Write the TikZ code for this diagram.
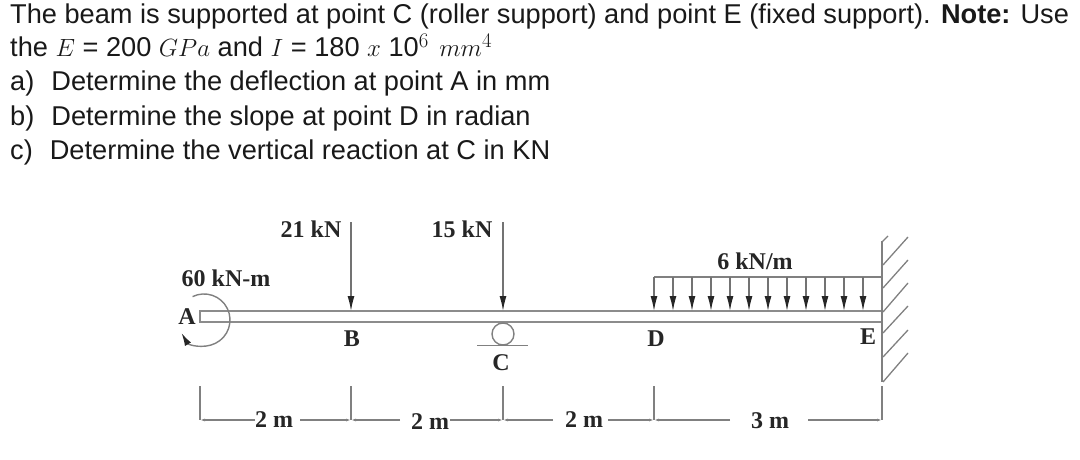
\documentclass[tikz,border=0pt]{standalone}
\usepackage{fontspec}
\setsansfont{Liberation Sans}
\newfontfamily\labelfont{Liberation Serif}
\usetikzlibrary{arrows.meta}
\tikzset{
	beamline/.style={line width=2.2pt, color=black!45},
	thinline/.style={line width=1.4pt, color=black!50},
	loadarrow/.style={line width=1.4pt, color=black!55, -{Latex[length=15pt,width=7pt,color=black!85]}},
	dimarrow/.style={line width=1.2pt, color=black!50, -{Latex[length=5pt,width=3pt]}},
	hatchline/.style={line width=1.3pt, color=black!50},
	question/.style={anchor=base west, inner sep=0pt, color=black!90, font=\sffamily\fontsize{27.2}{32}\selectfont},
	beamlabel/.style={inner sep=0pt, color=black!85, font=\labelfont\bfseries\fontsize{24}{28}\selectfont}
}
\begin{document}
\begin{tikzpicture}[x=1pt, y=1pt]
	%%%%% START %%%%%
	\useasboundingbox (0, 0) rectangle (1080, 459);

	\node[question] (line1) at (10, 435) {The beam is supported at point C (roller support) and point E (fixed support). \textbf{Note:} Use};
	\node[question] (line2) at (10, 402) {the $E$ = 200 $GPa$ and $I$ = 180 $x$ 10$^{6}$\hspace{3pt} $mm^{4}$};
	\node[question] (line3) at (10, 368) {a)\hspace{17pt}Determine the deflection at point A in mm};
	\node[question] (line4) at (10, 334) {b)\hspace{17pt}Determine the slope at point D in radian};
	\node[question] (line5) at (10, 300) {c)\hspace{17pt}Determine the vertical reaction at C in KN};

	% beam
	\draw[beamline] (200, 148) rectangle (882, 137);

	% wall at E
	\draw[thinline] (882, 218) -- (882, 77);
	\draw[hatchline] (882, 217) -- (888, 223);
	\draw[hatchline] (883, 194) -- (908, 222);
	\draw[hatchline] (883, 171) -- (908, 199);
	\draw[hatchline] (883, 147) -- (908, 176);
	\draw[hatchline] (883, 126) -- (908, 153);
	\draw[hatchline] (883, 102) -- (908, 129);
	\draw[hatchline] (883, 77) -- (908, 106);

	% roller at C
	\draw[thinline] (503, 125) circle (11);
	\draw[thinline] (477, 113.5) -- (528, 113.5);

	% moment at A
	\draw[line width=1.4pt, color=black!50, -{Latex[length=13pt,width=7pt,color=black!85]}] (192.6, 162.4) arc (116:-150:26);

	% point loads
	\draw[loadarrow] (351, 237) -- (351, 148);
	\draw[loadarrow] (503, 237) -- (503, 148);

	% distributed load
	\draw[thinline] (654, 182) -- (882, 182);
	\draw[loadarrow] (654, 182) -- (654, 148);
	\draw[loadarrow] (673, 182) -- (673, 148);
	\draw[loadarrow] (692, 182) -- (692, 148);
	\draw[loadarrow] (711, 182) -- (711, 148);
	\draw[loadarrow] (730, 182) -- (730, 148);
	\draw[loadarrow] (749, 182) -- (749, 148);
	\draw[loadarrow] (768, 182) -- (768, 148);
	\draw[loadarrow] (787, 182) -- (787, 148);
	\draw[loadarrow] (806, 182) -- (806, 148);
	\draw[loadarrow] (825, 182) -- (825, 148);
	\draw[loadarrow] (844, 182) -- (844, 148);
	\draw[loadarrow] (863, 182) -- (863, 148);

	% dimension lines
	\draw[thinline] (200, 73) -- (200, 39);
	\draw[thinline] (351, 73) -- (351, 39);
	\draw[thinline] (503, 73) -- (503, 39);
	\draw[thinline] (654, 73) -- (654, 39);
	\draw[thinline] (882, 73) -- (882, 39);
	\draw[dimarrow] (255, 39) -- (200, 39);
	\draw[dimarrow] (300, 39) -- (351, 39);
	\draw[dimarrow] (400, 39) -- (351, 39);
	\draw[dimarrow] (450, 39) -- (503, 39);
	\draw[dimarrow] (553, 39) -- (503, 39);
	\draw[dimarrow] (608, 39) -- (654, 39);
	\draw[dimarrow] (730, 39) -- (654, 39);
	\draw[dimarrow] (808, 39) -- (882, 39);

	% labels
	\node[beamlabel] (load21) at (311, 230) {21 kN};
	\node[beamlabel] (load15) at (462, 230) {15 kN};
	\node[beamlabel] (moment) at (226, 181) {60 kN-m};
	\node[beamlabel] (loadq) at (755, 198) {6 kN/m};
	\node[beamlabel] (ptA) at (187, 142) {A};
	\node[beamlabel] (ptB) at (352, 120) {B};
	\node[beamlabel] (ptC) at (501, 96) {C};
	\node[beamlabel] (ptD) at (656, 120) {D};
	\node[beamlabel] (ptE) at (868, 122) {E};
	\node[beamlabel] (spanAB) at (274, 39) {2 m};
	\node[beamlabel] (spanBC) at (430, 37) {2 m};
	\node[beamlabel] (spanCD) at (584, 39) {2 m};
	\node[beamlabel] (spanDE) at (770, 38) {3 m};
	%%%%% END %%%%%
\end{tikzpicture}
\end{document}
